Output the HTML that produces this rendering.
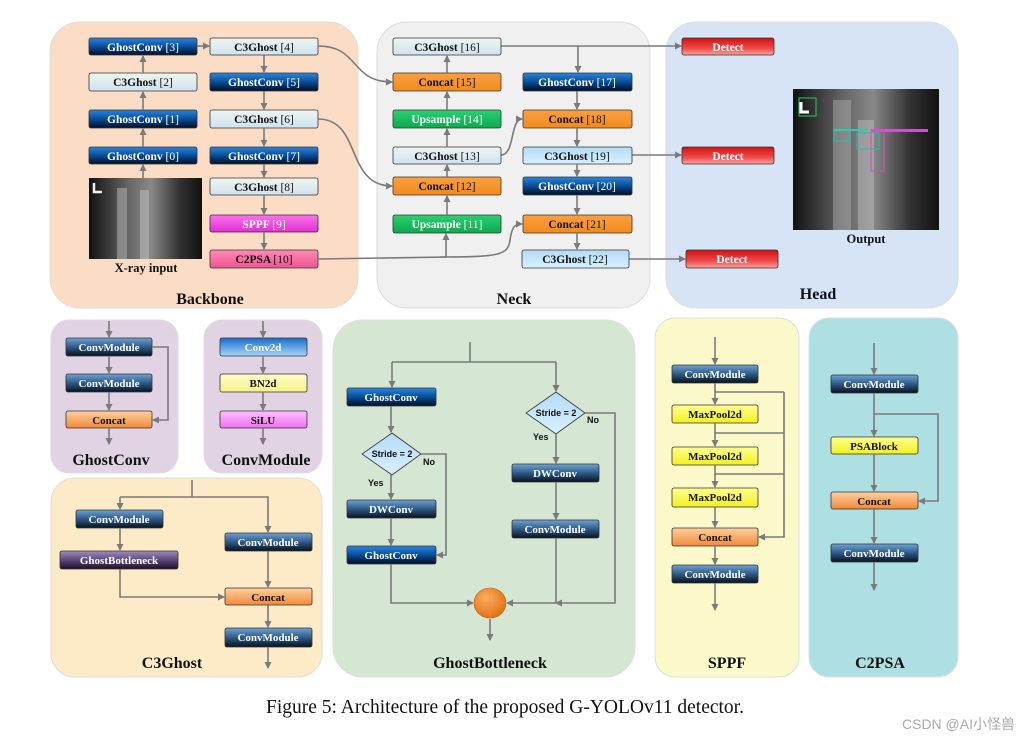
<!DOCTYPE html>
<html><head><meta charset="utf-8"><style>
html,body{margin:0;padding:0;background:#fff;}
svg{display:block;}
text{font-family:"Liberation Serif",serif;}
.l{font-size:11.5px;font-weight:bold;text-anchor:middle;}
.w{fill:#fff;}
.k{fill:#111;}
.t{font-size:16px;font-weight:bold;text-anchor:middle;fill:#111;}
.s{font-family:"Liberation Sans",sans-serif;font-size:9px;font-weight:bold;fill:#111;}
.a{stroke:#7a7a7a;stroke-width:1.6;fill:none;}
.b{stroke:#333;stroke-width:0.8;}
</style></head><body>
<svg width="1020" height="742" viewBox="0 0 1020 742" xmlns="http://www.w3.org/2000/svg">
<defs>
<marker id="m" markerWidth="8" markerHeight="8" refX="6" refY="4" orient="auto" markerUnits="userSpaceOnUse"><path d="M0,0.5 L7,4 L0,7.5 z" fill="#7a7a7a"/></marker>
<linearGradient id="gB" x1="0" y1="0" x2="0" y2="1"><stop offset="0" stop-color="#2a86e0"/><stop offset="0.5" stop-color="#0a4c96"/><stop offset="1" stop-color="#010f25"/></linearGradient>
<linearGradient id="gL" x1="0" y1="0" x2="0" y2="1"><stop offset="0" stop-color="#eef5f0"/><stop offset="1" stop-color="#cfe2f0"/></linearGradient>
<linearGradient id="gO" x1="0" y1="0" x2="0" y2="1"><stop offset="0" stop-color="#fba040"/><stop offset="1" stop-color="#f28a1c"/></linearGradient>
<linearGradient id="gG" x1="0" y1="0" x2="0" y2="1"><stop offset="0" stop-color="#2bd070"/><stop offset="1" stop-color="#0ea850"/></linearGradient>
<linearGradient id="gM" x1="0" y1="0" x2="0" y2="1"><stop offset="0" stop-color="#ff70f0"/><stop offset="1" stop-color="#e030d0"/></linearGradient>
<linearGradient id="gP" x1="0" y1="0" x2="0" y2="1"><stop offset="0" stop-color="#ff8ab8"/><stop offset="1" stop-color="#ee5590"/></linearGradient>
<linearGradient id="gR" x1="0" y1="0" x2="0" y2="1"><stop offset="0" stop-color="#d41010"/><stop offset="0.6" stop-color="#ee4a4a"/><stop offset="1" stop-color="#f9a0a0"/></linearGradient>
<linearGradient id="gS" x1="0" y1="0" x2="0" y2="1"><stop offset="0" stop-color="#6fa2d4"/><stop offset="0.5" stop-color="#2f5a86"/><stop offset="1" stop-color="#07121f"/></linearGradient>
<linearGradient id="gV" x1="0" y1="0" x2="0" y2="1"><stop offset="0" stop-color="#a08cc0"/><stop offset="0.5" stop-color="#5c4878"/><stop offset="1" stop-color="#1c1028"/></linearGradient>
<linearGradient id="gC" x1="0" y1="0" x2="0" y2="1"><stop offset="0" stop-color="#fdd0a0"/><stop offset="1" stop-color="#f28a38"/></linearGradient>
<linearGradient id="gY" x1="0" y1="0" x2="0" y2="1"><stop offset="0" stop-color="#ffff90"/><stop offset="1" stop-color="#f2f020"/></linearGradient>
<linearGradient id="gPY" x1="0" y1="0" x2="0" y2="1"><stop offset="0" stop-color="#fffccc"/><stop offset="1" stop-color="#f6f088"/></linearGradient>
<linearGradient id="gSi" x1="0" y1="0" x2="0" y2="1"><stop offset="0" stop-color="#ffc0ff"/><stop offset="1" stop-color="#f070f0"/></linearGradient>
<linearGradient id="gC2" x1="0" y1="0" x2="0" y2="1"><stop offset="0" stop-color="#1a6ccc"/><stop offset="1" stop-color="#a8d4f8"/></linearGradient>
<linearGradient id="gD" x1="0" y1="0" x2="0" y2="1"><stop offset="0" stop-color="#b4dcf6"/><stop offset="1" stop-color="#d8f0ff"/></linearGradient>
<radialGradient id="gCi" cx="0.4" cy="0.35" r="0.7"><stop offset="0" stop-color="#ffb060"/><stop offset="1" stop-color="#e06a10"/></radialGradient>
<linearGradient id="gX" x1="0" y1="0" x2="1" y2="0"><stop offset="0" stop-color="#111"/><stop offset="0.35" stop-color="#666"/><stop offset="0.55" stop-color="#888"/><stop offset="0.8" stop-color="#333"/><stop offset="1" stop-color="#111"/></linearGradient>
</defs>

<!-- Panels -->
<rect x="50" y="22" width="308" height="286" rx="30" fill="#fbdcc4" stroke="#ddd" stroke-width="1"/>
<rect x="377" y="22" width="273" height="286" rx="30" fill="#f0f0f0" stroke="#ddd" stroke-width="1"/>
<rect x="666" y="22" width="292" height="286" rx="30" fill="#d6e4f6" stroke="#ddd" stroke-width="1"/>
<rect x="51" y="320" width="127" height="153" rx="18" fill="#e1d2e4" stroke="#ddd"/>
<rect x="204" y="320" width="118" height="153" rx="18" fill="#e1d2e4" stroke="#ddd"/>
<rect x="51" y="478" width="271" height="199" rx="24" fill="#fcebc6" stroke="#ddd"/>
<rect x="333" y="320" width="302" height="357" rx="30" fill="#d5e6d3" stroke="#ddd"/>
<rect x="655" y="318" width="144" height="359" rx="20" fill="#fbf9c9" stroke="#ddd"/>
<rect x="809" y="318" width="149" height="359" rx="20" fill="#aedfe2" stroke="#ddd"/>

<!-- Backbone -->
<rect x="89" y="178" width="113" height="81" fill="url(#gX)"/>
<rect x="117" y="188" width="10" height="71" fill="#aaa" opacity="0.6"/>
<rect x="140" y="190" width="9" height="69" fill="#bbb" opacity="0.6"/>
<path d="M94,183 v9 h8" stroke="#eee" stroke-width="2.5" fill="none"/>
<text x="146" y="272" class="l k" style="font-size:12.5px">X-ray input</text>

<g class="b">
<rect x="89" y="38" width="108" height="17" rx="2" fill="url(#gB)"/>
<rect x="89" y="73" width="108" height="18" rx="2" fill="url(#gL)"/>
<rect x="89" y="110" width="108" height="18" rx="2" fill="url(#gB)"/>
<rect x="89" y="147" width="108" height="17" rx="2" fill="url(#gB)"/>
<rect x="210" y="38" width="108" height="17" rx="2" fill="url(#gL)"/>
<rect x="210" y="73" width="108" height="18" rx="2" fill="url(#gB)"/>
<rect x="210" y="110" width="108" height="18" rx="2" fill="url(#gL)"/>
<rect x="210" y="147" width="108" height="17" rx="2" fill="url(#gB)"/>
<rect x="210" y="178" width="108" height="17" rx="2" fill="url(#gL)"/>
<rect x="210" y="215" width="108" height="17" rx="2" fill="url(#gM)"/>
<rect x="210" y="250" width="108" height="18" rx="2" fill="url(#gP)"/>
</g>
<text x="143" y="51" class="l w">GhostConv <tspan font-weight="normal">[3]</tspan></text>
<text x="143" y="86" class="l k">C3Ghost <tspan font-weight="normal">[2]</tspan></text>
<text x="143" y="123" class="l w">GhostConv <tspan font-weight="normal">[1]</tspan></text>
<text x="143" y="160" class="l w">GhostConv <tspan font-weight="normal">[0]</tspan></text>
<text x="264" y="51" class="l k">C3Ghost <tspan font-weight="normal">[4]</tspan></text>
<text x="264" y="86" class="l w">GhostConv <tspan font-weight="normal">[5]</tspan></text>
<text x="264" y="123" class="l k">C3Ghost <tspan font-weight="normal">[6]</tspan></text>
<text x="264" y="160" class="l w">GhostConv <tspan font-weight="normal">[7]</tspan></text>
<text x="264" y="191" class="l k">C3Ghost <tspan font-weight="normal">[8]</tspan></text>
<text x="264" y="228" class="l w">SPPF <tspan font-weight="normal">[9]</tspan></text>
<text x="264" y="263" class="l k">C2PSA <tspan font-weight="normal">[10]</tspan></text>
<g class="a" marker-end="url(#m)">
<path d="M143,178 V165"/><path d="M143,147 V129"/><path d="M143,110 V92"/><path d="M143,73 V56"/>
<path d="M197,46 H209"/>
<path d="M264,55 V72"/><path d="M264,91 V109"/><path d="M264,128 V146"/><path d="M264,164 V177"/><path d="M264,195 V214"/><path d="M264,232 V249"/>
</g>
<text x="210" y="304" class="t">Backbone</text>

<!-- Connections backbone -> neck -->
<g class="a" marker-end="url(#m)">
<path d="M318,46 C360,46 350,82 392,82"/>
<path d="M318,119 C362,119 345,186 392,186"/>
<path d="M318,259 L446,257 V234"/>
<path d="M440,257 C500,257 508,255 510,240 C512,226 515,224 522,224"/>
<path d="M501,155 C515,155 510,119 522,119"/>
<path d="M501,46 H681"/>
<path d="M578,46 V72"/>
<path d="M632,155 H681"/>
<path d="M629,259 H685"/>
</g>

<!-- Neck -->
<g class="b">
<rect x="393" y="38" width="108" height="17" rx="2" fill="url(#gL)"/>
<rect x="393" y="73" width="108" height="18" rx="2" fill="url(#gO)"/>
<rect x="393" y="110" width="108" height="18" rx="2" fill="url(#gG)"/>
<rect x="393" y="147" width="108" height="17" rx="2" fill="url(#gL)"/>
<rect x="393" y="177" width="108" height="18" rx="2" fill="url(#gO)"/>
<rect x="393" y="215" width="108" height="18" rx="2" fill="url(#gG)"/>
<rect x="523" y="73" width="109" height="18" rx="2" fill="url(#gB)"/>
<rect x="523" y="110" width="109" height="18" rx="2" fill="url(#gO)"/>
<rect x="523" y="147" width="109" height="17" rx="2" fill="url(#gD)"/>
<rect x="523" y="177" width="109" height="18" rx="2" fill="url(#gB)"/>
<rect x="523" y="215" width="109" height="18" rx="2" fill="url(#gO)"/>
<rect x="522" y="250" width="107" height="18" rx="2" fill="url(#gD)"/>
</g>
<text x="447" y="51" class="l k">C3Ghost <tspan font-weight="normal">[16]</tspan></text>
<text x="447" y="86" class="l k">Concat <tspan font-weight="normal">[15]</tspan></text>
<text x="447" y="123" class="l w">Upsample <tspan font-weight="normal">[14]</tspan></text>
<text x="447" y="160" class="l k">C3Ghost <tspan font-weight="normal">[13]</tspan></text>
<text x="447" y="190" class="l k">Concat <tspan font-weight="normal">[12]</tspan></text>
<text x="447" y="228" class="l w">Upsample <tspan font-weight="normal">[11]</tspan></text>
<text x="577" y="86" class="l w">GhostConv <tspan font-weight="normal">[17]</tspan></text>
<text x="577" y="123" class="l k">Concat <tspan font-weight="normal">[18]</tspan></text>
<text x="577" y="160" class="l k">C3Ghost <tspan font-weight="normal">[19]</tspan></text>
<text x="577" y="190" class="l w">GhostConv <tspan font-weight="normal">[20]</tspan></text>
<text x="577" y="228" class="l k">Concat <tspan font-weight="normal">[21]</tspan></text>
<text x="575" y="263" class="l k">C3Ghost <tspan font-weight="normal">[22]</tspan></text>
<g class="a" marker-end="url(#m)">
<path d="M447,73 V56"/><path d="M447,110 V92"/><path d="M447,147 V129"/><path d="M447,177 V165"/><path d="M447,215 V196"/>
<path d="M577,91 V109"/><path d="M577,128 V146"/><path d="M577,164 V176"/><path d="M577,195 V214"/><path d="M577,233 V249"/>
</g>
<text x="514" y="304" class="t">Neck</text>

<!-- Head -->
<g class="b">
<rect x="682" y="38" width="92" height="17" rx="2" fill="url(#gR)"/>
<rect x="682" y="147" width="92" height="17" rx="2" fill="url(#gR)"/>
<rect x="686" y="250" width="92" height="18" rx="2" fill="url(#gR)"/>
</g>
<text x="728" y="51" class="l w">Detect</text>
<text x="728" y="160" class="l w">Detect</text>
<text x="732" y="263" class="l w">Detect</text>
<rect x="793" y="89" width="146" height="141" fill="url(#gX)"/>
<rect x="833" y="100" width="18" height="130" fill="#aaa" opacity="0.5"/>
<rect x="858" y="120" width="16" height="110" fill="#bbb" opacity="0.5"/>
<rect x="799" y="98" width="17" height="18" fill="none" stroke="#1ed05a" stroke-width="1"/>
<path d="M801,102 v10 h8" stroke="#fff" stroke-width="3" fill="none"/>
<rect x="834" y="130" width="15" height="11" fill="none" stroke="#20c0b0" stroke-width="1"/>
<rect x="857" y="133" width="22" height="16" fill="none" stroke="#20c0b0" stroke-width="1"/>
<rect x="871" y="130" width="13" height="41" fill="none" stroke="#d050c0" stroke-width="1"/>
<rect x="871" y="129" width="57" height="3" fill="#d050d0"/>
<rect x="834" y="129" width="33" height="2" fill="#20d0b0"/>
<text x="866" y="243" class="l k" style="font-size:12.5px">Output</text>
<text x="818" y="299" class="t">Head</text>

<!-- GhostConv panel -->
<g class="b">
<rect x="66" y="338" width="86" height="18" rx="2" fill="url(#gS)"/>
<rect x="66" y="374" width="86" height="18" rx="2" fill="url(#gS)"/>
<rect x="66" y="411" width="86" height="17" rx="2" fill="url(#gC)"/>
</g>
<text x="109" y="351" class="l w" style="font-size:11px">ConvModule</text>
<text x="109" y="387" class="l w" style="font-size:11px">ConvModule</text>
<text x="109" y="424" class="l k" style="font-size:11px">Concat</text>
<g class="a" marker-end="url(#m)">
<path d="M109,321 V337"/><path d="M109,356 V373"/><path d="M109,392 V410"/><path d="M109,428 V444"/>
<path d="M152,347 H168 V420 H153"/>
</g>
<text x="111" y="465" class="t">GhostConv</text>

<!-- ConvModule panel -->
<g class="b">
<rect x="220" y="338" width="87" height="18" rx="2" fill="url(#gC2)"/>
<rect x="220" y="374" width="87" height="18" rx="2" fill="url(#gPY)"/>
<rect x="220" y="411" width="87" height="17" rx="2" fill="url(#gSi)"/>
</g>
<text x="263" y="351" class="l w" style="font-size:11px">Conv2d</text>
<text x="263" y="387" class="l k" style="font-size:11px">BN2d</text>
<text x="263" y="424" class="l k" style="font-size:11px">SiLU</text>
<g class="a" marker-end="url(#m)">
<path d="M263,321 V337"/><path d="M263,356 V373"/><path d="M263,392 V410"/><path d="M263,428 V444"/>
</g>
<text x="266" y="465" class="t">ConvModule</text>

<!-- C3Ghost panel -->
<g class="b">
<rect x="76" y="510" width="87" height="18" rx="2" fill="url(#gS)"/>
<rect x="60" y="551" width="118" height="18" rx="2" fill="url(#gV)"/>
<rect x="225" y="533" width="87" height="18" rx="2" fill="url(#gS)"/>
<rect x="225" y="588" width="87" height="17" rx="2" fill="url(#gC)"/>
<rect x="225" y="628" width="87" height="19" rx="2" fill="url(#gS)"/>
</g>
<text x="119" y="523" class="l w" style="font-size:11px">ConvModule</text>
<text x="119" y="564" class="l w" style="font-size:11px">GhostBottleneck</text>
<text x="268" y="546" class="l w" style="font-size:11px">ConvModule</text>
<text x="268" y="601" class="l k" style="font-size:11px">Concat</text>
<text x="268" y="641" class="l w" style="font-size:11px">ConvModule</text>
<path class="a" d="M192,480 V497"/>
<g class="a" marker-end="url(#m)">
<path d="M120,497 H268 V532"/><path d="M120,497 V509"/><path d="M120,528 V550"/>
<path d="M120,569 V597 H224"/>
<path d="M268,551 V587"/><path d="M268,605 V627"/><path d="M268,647 V668"/>
</g>
<text x="172" y="668" class="t">C3Ghost</text>

<!-- GhostBottleneck panel -->
<path class="a" d="M470,342 V362 M392,362 H556"/>
<g class="b">
<rect x="347" y="388" width="89" height="18" rx="2" fill="url(#gB)"/>
<rect x="347" y="500" width="89" height="18" rx="2" fill="url(#gS)"/>
<rect x="347" y="546" width="89" height="18" rx="2" fill="url(#gB)"/>
<rect x="512" y="464" width="87" height="18" rx="2" fill="url(#gS)"/>
<rect x="512" y="520" width="87" height="18" rx="2" fill="url(#gS)"/>
<path d="M392,433 L421,454 L392,475 L362,454 Z" fill="url(#gD)"/>
<path d="M556,392 L585,413 L556,434 L526,413 Z" fill="url(#gD)"/>
</g>
<text x="391" y="401" class="l w" style="font-size:11px">GhostConv</text>
<text x="391" y="513" class="l w" style="font-size:11px">DWConv</text>
<text x="391" y="559" class="l w" style="font-size:11px">GhostConv</text>
<text x="555" y="477" class="l w" style="font-size:11px">DWConv</text>
<text x="555" y="533" class="l w" style="font-size:11px">ConvModule</text>
<text x="392" y="457" class="s" text-anchor="middle">Stride = 2</text>
<text x="556" y="416" class="s" text-anchor="middle">Stride = 2</text>
<text x="423" y="465" class="s">No</text>
<text x="368" y="486" class="s">Yes</text>
<text x="587" y="423" class="s">No</text>
<text x="533" y="440" class="s">Yes</text>
<g class="a" marker-end="url(#m)">
<path d="M392,362 V387"/><path d="M556,362 V391"/>
<path d="M391,406 V432"/><path d="M391,475 V499"/><path d="M391,518 V545"/>
<path d="M421,454 H446 V555 H437"/>
<path d="M556,434 V463"/><path d="M556,482 V519"/>
<path d="M391,564 V603 H473"/>
<path d="M556,538 V603 H507"/>
<path d="M585,413 H615 V603 H556"/>
<path d="M490,619 V640"/>
</g>
<ellipse cx="490" cy="603" rx="16" ry="15" fill="url(#gCi)" stroke="#c06010" stroke-width="0.6"/>
<path d="M474,603 H506 M490,588 V618" stroke="#e89050" stroke-width="0.8"/>
<text x="490" y="668" class="t">GhostBottleneck</text>

<!-- SPPF -->
<g class="b">
<rect x="672" y="365" width="86" height="18" rx="2" fill="url(#gS)"/>
<rect x="672" y="405" width="86" height="18" rx="2" fill="url(#gY)"/>
<rect x="672" y="447" width="86" height="18" rx="2" fill="url(#gY)"/>
<rect x="672" y="488" width="86" height="19" rx="2" fill="url(#gY)"/>
<rect x="672" y="528" width="86" height="18" rx="2" fill="url(#gC)"/>
<rect x="672" y="565" width="86" height="18" rx="2" fill="url(#gS)"/>
</g>
<text x="715" y="378" class="l w" style="font-size:11px">ConvModule</text>
<text x="715" y="418" class="l k" style="font-size:11px">MaxPool2d</text>
<text x="715" y="460" class="l k" style="font-size:11px">MaxPool2d</text>
<text x="715" y="501" class="l k" style="font-size:11px">MaxPool2d</text>
<text x="715" y="541" class="l k" style="font-size:11px">Concat</text>
<text x="715" y="578" class="l w" style="font-size:11px">ConvModule</text>
<path class="a" d="M715,392 H784 M715,433 H784 M715,474 H784"/>
<g class="a" marker-end="url(#m)">
<path d="M715,337 V364"/><path d="M715,383 V404"/><path d="M715,423 V446"/><path d="M715,465 V487"/><path d="M715,507 V527"/><path d="M715,546 V564"/><path d="M715,583 V610"/>
<path d="M784,392 V537 H759"/>
</g>
<text x="727" y="668" class="t">SPPF</text>

<!-- C2PSA -->
<g class="b">
<rect x="831" y="375" width="87" height="18" rx="2" fill="url(#gS)"/>
<rect x="831" y="437" width="87" height="17" rx="2" fill="url(#gY)"/>
<rect x="831" y="492" width="87" height="17" rx="2" fill="url(#gC)"/>
<rect x="831" y="544" width="87" height="18" rx="2" fill="url(#gS)"/>
</g>
<text x="874" y="388" class="l w" style="font-size:11px">ConvModule</text>
<text x="874" y="450" class="l k" style="font-size:11px">PSABlock</text>
<text x="874" y="505" class="l k" style="font-size:11px">Concat</text>
<text x="874" y="557" class="l w" style="font-size:11px">ConvModule</text>
<g class="a" marker-end="url(#m)">
<path d="M874,343 V374"/><path d="M874,393 V436"/><path d="M874,454 V491"/><path d="M874,509 V543"/><path d="M874,562 V590"/>
<path d="M874,414 H938 V501 H919"/>
</g>
<text x="880" y="668" class="t">C2PSA</text>

<!-- Caption -->
<text x="505" y="713" style="font-size:19.5px;text-anchor:middle;fill:#111">Figure 5: Architecture of the proposed G-YOLOv11 detector.</text>
<text x="1015" y="729" style="font-family:'Liberation Sans','Noto Sans CJK SC',sans-serif;font-size:14px;text-anchor:end;fill:#aaa">CSDN @AI小怪兽</text>
</svg>
</body></html>
